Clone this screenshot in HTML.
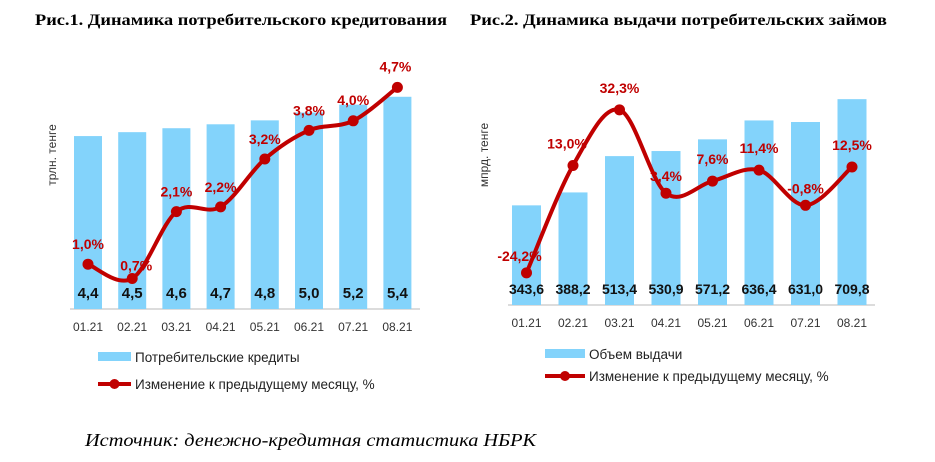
<!DOCTYPE html>
<html><head><meta charset="utf-8">
<style>
html,body{margin:0;padding:0;background:#fff;}
svg{display:block;}
text{font-family:"Liberation Sans",Arial,sans-serif;}
.ser{font-family:"Liberation Serif","Times New Roman",serif;}
</style></head>
<body>
<svg id="s" width="935" height="462" viewBox="0 0 935 462" xmlns="http://www.w3.org/2000/svg">
<text class="ser" x="35" y="25" font-size="15.5" font-weight="bold" textLength="412" lengthAdjust="spacingAndGlyphs">Рис.1. Динамика потребительского кредитования</text>
<text class="ser" x="470" y="25" font-size="15.5" font-weight="bold" textLength="417" lengthAdjust="spacingAndGlyphs">Рис.2. Динамика выдачи потребительских займов</text>
<text class="ser" x="85" y="446" font-size="18" font-style="italic" textLength="451" lengthAdjust="spacingAndGlyphs">Источник: денежно-кредитная статистика НБРК</text>
<g id="c1"></g>
<g id="c2"></g>
</svg>
<script>
const months = ["01.21","02.21","03.21","04.21","05.21","06.21","07.21","08.21"];
const c1Bars = [4.4,4.5,4.6,4.7,4.8,5.0,5.2,5.4];
const c1Pct = [1.0,0.7,2.1,2.2,3.2,3.8,4.0,4.7];
const c2Bars = [343.6,388.2,513.4,530.9,571.2,636.4,631.0,709.8];
const c2Pct = [-24.2,13.0,32.3,3.4,7.6,11.4,-0.8,12.5];
const NS="http://www.w3.org/2000/svg";
function mk(p,tag,attrs){const e=document.createElementNS(NS,tag);for(const k in attrs)e.setAttribute(k,attrs[k]);p.appendChild(e);return e;}
function fmt(v,d){return v.toFixed(d).replace('.',',');}
function smooth(pts){let d="M"+pts[0][0]+","+pts[0][1];for(let i=0;i<pts.length-1;i++){const p0=pts[i-1]||pts[i],p1=pts[i],p2=pts[i+1],p3=pts[i+2]||p2;const t=1/6;d+=" C"+(p1[0]+(p2[0]-p0[0])*t)+","+(p1[1]+(p2[1]-p0[1])*t)+" "+(p2[0]-(p3[0]-p1[0])*t)+","+(p2[1]-(p3[1]-p1[1])*t)+" "+p2[0]+","+p2[1];}return d;}
function chart(g,cfg){
  const xs=i=>cfg.x0+i*cfg.step;
  const yb=v=>cfg.base-v*cfg.bScale;
  const yl=v=>cfg.lZero-v*cfg.lScale;
  const ax=mk(g,'line',{x1:cfg.axL,x2:cfg.axR,y1:cfg.base,y2:cfg.base,stroke:'#d0d0d0','stroke-width':1.5});
  
  const yt=mk(g,'text',{x:0,y:0,'font-size':12,fill:'#333','text-anchor':'middle',transform:`translate(${cfg.ytx},${cfg.yty}) rotate(-90)`});
  yt.textContent=cfg.yTitle;
  cfg.bars.forEach((v,i)=>{
    const r=mk(g,'rect',{x:xs(i)-cfg.bw/2,y:yb(v),width:cfg.bw,height:cfg.base-yb(v),fill:'#83d3fb'});
    
    const t=mk(g,'text',{x:xs(i),y:cfg.base-11,'font-size':cfg.vfs,'font-weight':'bold','text-anchor':'middle',fill:'#111'});
    t.textContent=fmt(v,1);
    const m=mk(g,'text',{x:xs(i),y:cfg.base+22,'font-size':12,'text-anchor':'middle',fill:'#333'});
    m.textContent=months[i];
  });
  const pts=cfg.pct.map((v,i)=>[xs(i),yl(v)]);
  const ln=mk(g,'path',{d:smooth(pts),fill:'none',stroke:'#c00000','stroke-width':4,'stroke-linecap':'round'});
  
  pts.forEach((p,i)=>{
    const c=mk(g,'circle',{cx:p[0],cy:p[1],r:5.5,fill:'#c00000'});
    
    const t=mk(g,'text',{x:p[0]+(cfg.dx[i]||0),y:p[1]-cfg.dy[i],'font-size':14,'font-weight':'bold','text-anchor':'middle',fill:'#c00000'});
    t.textContent=fmt(cfg.pct[i],1)+'%';
  });
  // legend
  const lr=mk(g,'rect',{x:cfg.lgx,y:cfg.lgy1-5,width:cfg.lgw,height:9,fill:'#83d3fb'});
  
  const lt=mk(g,'text',{x:cfg.lgx+cfg.lgw+4,y:cfg.lgy1+5,'font-size':13.5,fill:'#222'});
  lt.textContent=cfg.lg1;
  const ll=mk(g,'line',{x1:cfg.lgx,x2:cfg.lgx+cfg.lgw,y1:cfg.lgy2,y2:cfg.lgy2,stroke:'#c00000','stroke-width':4});
  
  const lc=mk(g,'circle',{cx:cfg.lgx+cfg.lgw/2,cy:cfg.lgy2,r:5,fill:'#c00000'});
  
  const lt2=mk(g,'text',{x:cfg.lgx+cfg.lgw+4,y:cfg.lgy2+5,'font-size':13.5,fill:'#222'});
  lt2.textContent='Изменение к предыдущему месяцу, %';
}
chart(document.getElementById('c1'),{x0:88,step:44.2,bw:28,base:309,bScale:39.3,lZero:312,lScale:47.8,
 axL:70,axR:420,ytx:56,yty:155,yTitle:'трлн. тенге',bars:c1Bars,pct:c1Pct,vfs:15,
 dy:[15,8,15,15,15,15,16,16],dx:[0,4,0,0,0,0,0,-2],
 lgx:98,lgw:33,lgy1:357,lgy2:384,lg1:'Потребительские кредиты'});
chart(document.getElementById('c2'),{x0:526.5,step:46.5,bw:29,base:305,bScale:0.29,lZero:203,lScale:2.885,
 axL:508,axR:875,ytx:488,yty:155,yTitle:'мпрд. тенге',bars:c2Bars,pct:c2Pct,vfs:14,
 dy:[12,17,17,12,17,17,12,17],dx:[-7,-6,0,0,0,0,0,0],
 lgx:545,lgw:40,lgy1:354,lgy2:376,lg1:'Объем выдачи'});
</script>
</body></html>
